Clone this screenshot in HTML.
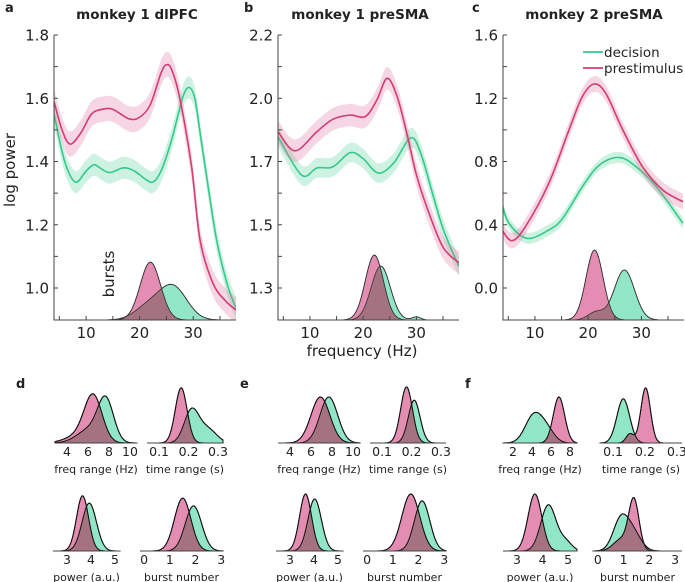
<!DOCTYPE html>
<html><head><meta charset="utf-8"><style>
html,body{margin:0;padding:0;background:#fff;}
svg{display:block;font-family:"DejaVu Sans","Liberation Sans",sans-serif;}
</style></head><body>
<svg id="fig" width="685" height="582" viewBox="0 0 685 582" xmlns="http://www.w3.org/2000/svg">
<g id="layer"></g>
</svg>
<script>
// ---- Main spectra data (frequency Hz, log power) ----
const aFreqPink=[4,5.5,7,9,11,13,15,18,20,22,24,25,26,27.5,29.7,31.3,33.7,36,38];
const aValPink=[1.59,1.50,1.455,1.49,1.55,1.565,1.565,1.535,1.54,1.58,1.68,1.706,1.69,1.60,1.384,1.15,1.015,0.96,0.93];
const aFreqGreen=[4,6,8,10,11.5,13,14.5,17,19,21,22.5,24,26,28,29.2,30.3,31.3,32.8,34.4,36.3,38];
const aValGreen=[1.55,1.40,1.335,1.37,1.39,1.375,1.365,1.38,1.37,1.345,1.335,1.37,1.47,1.60,1.634,1.60,1.49,1.32,1.15,1.015,0.935];
const bFreqPink=[4,7.2,11.3,14.3,17.5,20.4,22.6,24.5,26.4,28.2,30.1,32.6,35.1,38];
const bValPink=[1.856,1.788,1.856,1.90,1.915,1.91,1.97,2.046,1.98,1.85,1.696,1.554,1.442,1.389];
const bFreqGreen=[4,8.4,11.3,14.3,17.5,19.9,22.8,25.7,28.9,30.8,33,35.1,38];
const bValGreen=[1.838,1.702,1.727,1.731,1.781,1.762,1.709,1.744,1.834,1.78,1.638,1.506,1.376];
const cFreqPink=[3.8,5.7,8.2,12.6,16.4,18.9,21.1,23.3,26.5,30.2,34,37.8];
const cValPink=[0.367,0.299,0.388,0.662,1.0,1.21,1.29,1.231,1.0,0.767,0.62,0.546];
const cFreqGreen=[3.8,5.1,8.5,12.6,15.2,18.9,22.1,25.8,29,32.8,37.8];
const cValGreen=[0.535,0.41,0.314,0.367,0.44,0.64,0.778,0.826,0.767,0.64,0.409];
const bandPink=[0.04,0.04,0.05];
const bandGreen=[0.035,0.035,0.035];
// burst densities: [mean Hz, sd, height in log-power units]
const aBurstPink=[[22,1.9,0.183]];
const aBurstGreen=[[26.2,2.6,0.105],[21.5,2.5,0.04]];
const bBurstPink=[[22.1,1.7,0.231]];
const bBurstGreen=[[23.3,1.8,0.192],[30,0.8,0.011]];
const cBurstPink=[[21.2,1.6,0.443]];
const cBurstGreen=[[26.8,1.9,0.316],[21.5,1.5,0.05]];
const yTickValsA=[1.8,1.6,1.4,1.2,1.0];
const yTickLabelsA=["1.8","1.6","1.4","1.2","1.0"];
const yTickValsB=[2.2,1.975,1.75,1.525,1.3];
const yTickLabelsB=["2.2","2.0","1.7","1.5","1.3"];
const yTickValsC=[1.6,1.2,0.8,0.4,0.0];
const yTickLabelsC=["1.6","1.2","0.8","0.4","0.0"];
const xTickVals=[10,20,30];
// ---- Mini distributions: [mean, sd, amplitude] ----
const dFreqPink=[[6.5,0.85,1.0],[5,1.2,0.15]], dFreqGreen=[[7.7,0.75,0.88],[6.2,1.2,0.3]];
const dTimePink=[[0.175,0.02,1.2]], dTimeGreen=[[0.21,0.025,0.7],[0.265,0.03,0.3]];
const dPowPink=[[3.65,0.25,1.2]], dPowGreen=[[3.93,0.3,1.04]];
const dBurPink=[[1.5,0.32,1.15]], dBurGreen=[[1.92,0.32,0.98]];
const eFreqPink=[[6.9,0.9,1.0]], eFreqGreen=[[7.7,0.85,1.0]];
const eTimePink=[[0.183,0.02,1.22]], eTimeGreen=[[0.209,0.02,0.93]];
const ePowPink=[[3.65,0.25,1.24]], ePowGreen=[[4.03,0.28,1.13]];
const eBurPink=[[1.7,0.35,1.24]], eBurGreen=[[2.14,0.3,1.09]];
const fFreqPink=[[6.84,0.6,1.0]], fFreqGreen=[[4.2,0.9,0.6],[5.6,0.8,0.25]];
const fTimePink=[[0.202,0.015,1.2],[0.153,0.012,0.2]], fTimeGreen=[[0.132,0.02,0.96]];
const fPowPink=[[3.7,0.27,1.24]], fPowGreen=[[4.23,0.3,1.0],[4.9,0.25,0.2]];
const fBurPink=[[1.4,0.2,1.1],[0.9,0.3,0.25]], fBurGreen=[[0.9,0.3,0.7],[1.4,0.3,0.35]];
const freqTicksDE=[4,6,8,10], freqTicksF=[2,4,6,8], timeTicks=[0.1,0.2,0.3], powTicks=[3,4,5], burTicks=[0,1,2,3];
const timeTickLabels=["0.1","0.2","0.3"];

const NS="http://www.w3.org/2000/svg";
const layer=document.getElementById('layer');
const PINK="#d63a72", GREEN="#33c98a", PINKB="rgba(222,120,160,0.3)", GREENB="rgba(80,210,150,0.28)";
const PINKF="#e48db2", GREENF="#91e6c5", OVER="#a5737f";
function el(tag,attrs,parent){const e=document.createElementNS(NS,tag);for(const k in attrs)e.setAttribute(k,attrs[k]);(parent||layer).appendChild(e);return e;}
function txt(s,x,y,size,anchor,extra,parent){const t=el('text',Object.assign({x:x,y:y,'font-size':size,'text-anchor':anchor||'middle',fill:'#222'},extra||{}),parent);t.textContent=s;return t;}
function crPath(pts){let d='M'+pts[0][0].toFixed(2)+','+pts[0][1].toFixed(2);
 for(let i=0;i<pts.length-1;i++){const p0=pts[Math.max(0,i-1)],p1=pts[i],p2=pts[i+1],p3=pts[Math.min(pts.length-1,i+2)];
 const c1=[p1[0]+(p2[0]-p0[0])/6,p1[1]+(p2[1]-p0[1])/6],c2=[p2[0]-(p3[0]-p1[0])/6,p2[1]-(p3[1]-p1[1])/6];
 d+=' C'+c1[0].toFixed(2)+','+c1[1].toFixed(2)+' '+c2[0].toFixed(2)+','+c2[1].toFixed(2)+' '+p2[0].toFixed(2)+','+p2[1].toFixed(2);}
 return d;}
function mix(comps,x){let s=0;for(const c of comps)s+=c[2]*Math.exp(-0.5*Math.pow((x-c[0])/c[1],2));return s;}

// ---- main panels ----
const mains=[
 {key:'a',x0:54,x1:236,vTop:1.8,vBot:1.0,tv:yTickValsA,tl:yTickLabelsA,fp:aFreqPink,vp:aValPink,fg:aFreqGreen,vg:aValGreen,bp:aBurstPink,bg:aBurstGreen,bi:0},
 {key:'b',x0:278,x1:459,vTop:2.2,vBot:1.3,tv:yTickValsB,tl:yTickLabelsB,fp:bFreqPink,vp:bValPink,fg:bFreqGreen,vg:bValGreen,bp:bBurstPink,bg:bBurstGreen,bi:1},
 {key:'c',x0:503,x1:684,vTop:1.6,vBot:0.0,tv:yTickValsC,tl:yTickLabelsC,fp:cFreqPink,vp:cValPink,fg:cFreqGreen,vg:cValGreen,bp:cBurstPink,bg:cBurstGreen,bi:2}];
const Y0=35,Y1=288,YB=320;
mains.forEach((P,pi)=>{
 const g=el('g',{});
 
 
 const sx=f=>P.x0+(f-4)/(38-4)*(P.x1-P.x0);
 const sy=v=>Y0+(P.vTop-v)/(P.vTop-P.vBot)*(Y1-Y0);
 const vBase=P.vTop-(YB-Y0)/(Y1-Y0)*(P.vTop-P.vBot);
 const cid='clip'+P.key;
 const cp=el('clipPath',{id:cid},g);el('rect',{x:P.x0,y:0,width:P.x1-P.x0,height:YB},cp);
 const inner=el('g',{'clip-path':'url(#'+cid+')'},g);
 const N=160;const ptsP=[],ptsG=[],ptsO=[];
 for(let i=0;i<=N;i++){const f=4+34*i/N;const dp=mix(P.bp,f),dg=mix(P.bg,f);
  ptsP.push([sx(f),sy(vBase+dp)]);ptsG.push([sx(f),sy(vBase+dg)]);ptsO.push([sx(f),sy(vBase+Math.min(dp,dg))]);}
 const close=pts=>'M'+sx(4)+','+YB+' L'+pts.map(p=>p[0].toFixed(2)+','+p[1].toFixed(2)).join(' L')+' L'+sx(38)+','+YB+' Z';
 const gp=el('path',{d:close(ptsG),fill:GREENF,stroke:'#333','stroke-width':0.8},inner);
 
 const pp=el('path',{d:close(ptsP),fill:PINKF,stroke:'#333','stroke-width':0.8},inner);
 
 el('path',{d:close(ptsO),fill:OVER,stroke:'none'},inner);
 el('path',{d:'M'+ptsP.map(p=>p[0].toFixed(2)+','+p[1].toFixed(2)).join(' L'),fill:'none',stroke:'#333','stroke-width':0.8},inner);
 el('path',{d:'M'+ptsG.map(p=>p[0].toFixed(2)+','+p[1].toFixed(2)).join(' L'),fill:'none',stroke:'#333','stroke-width':0.8},inner);
 [[P.fg,P.vg,GREEN,GREENB,bandGreen[P.bi],'decision'],[P.fp,P.vp,PINK,PINKB,bandPink[P.bi],'prestimulus']].forEach(S=>{
  const up=S[0].map((f,i)=>[sx(f),sy(S[1][i]+S[4])]);
  const lo=S[0].map((f,i)=>[sx(f),sy(S[1][i]-S[4])]).reverse();
  const bd=crPath(up)+' L'+lo[0][0]+','+lo[0][1]+' '+crPath(lo).slice(1)+' Z';
  const band=el('path',{d:bd,fill:S[3],stroke:'none'},inner);
  
  const line=el('path',{d:crPath(S[0].map((f,i)=>[sx(f),sy(S[1][i])])),fill:'none',stroke:S[2],'stroke-width':1.6},inner);
  
 });
 const ax=el('path',{d:'M'+P.x0+','+Y0+' L'+P.x0+','+YB+' L'+P.x1+','+YB,fill:'none',stroke:'#444','stroke-width':1},g);
 
 for(let f=5;f<=35;f+=5)el('line',{x1:sx(f),x2:sx(f),y1:YB,y2:YB-4,stroke:'#444','stroke-width':1},g);
 xTickVals.forEach(f=>{const t=txt(String(f),sx(f),338,15,'middle',{},g);
  });
 P.tv.forEach((v,i)=>{const y=sy(v);el('line',{x1:P.x0,x2:P.x0+4,y1:y,y2:y,stroke:'#444'},g);
  if(i<P.tv.length-1){const ym=(y+sy(P.tv[i+1]))/2;el('line',{x1:P.x0,x2:P.x0+4,y1:ym,y2:ym,stroke:'#444'},g);}
  const t=txt(P.tl[i],P.x0-5,y+5.5,15,'end',{},g);
  });
});
const titles=[['monkey 1 dlPFC',137,'a',5],['monkey 1 preSMA',360,'b',244],['monkey 2 preSMA',594,'c',472]];
titles.forEach(T=>{const t=txt(T[0],T[1],19,13.5,'middle',{'font-weight':'bold'});
 
 const l=txt(T[2],T[3],12,13,'start',{'font-weight':'bold'});
 });
const ylab=txt('log power',15,170,15,'middle',{transform:'rotate(-90 15 170)'});

const bl=txt('bursts',114,274,15,'middle',{transform:'rotate(-90 114 274)'});

const xl=txt('frequency (Hz)',362,356,15,'middle');

const lg=el('g',{});

el('line',{x1:583,x2:603,y1:52,y2:52,stroke:GREEN,'stroke-width':1.8},lg);
el('line',{x1:583,x2:603,y1:68,y2:68,stroke:PINK,'stroke-width':1.8},lg);
const le1=txt('decision',604,57,13.5,'start',{},lg);
const le2=txt('prestimulus',604,73,13.5,'start',{},lg);

const minis=[
 ['d-freq',55,137,2.86,10.67,443,dFreqPink,dFreqGreen,freqTicksDE,null,'freq range (Hz)'],
 ['d-time',147,223,0.059,0.317,443,dTimePink,dTimeGreen,timeTicks,timeTickLabels,'time range (s)'],
 ['d-power',53,120,2.42,5.21,551,dPowPink,dPowGreen,powTicks,null,'power (a.u.)'],
 ['d-burst',140,223,-0.16,3.07,551,dBurPink,dBurGreen,burTicks,null,'burst number'],
 ['e-freq',278,360,2.86,10.67,443,eFreqPink,eFreqGreen,freqTicksDE,null,'freq range (Hz)'],
 ['e-time',370,446,0.059,0.317,443,eTimePink,eTimeGreen,timeTicks,timeTickLabels,'time range (s)'],
 ['e-power',276,343,2.42,5.21,551,ePowPink,ePowGreen,powTicks,null,'power (a.u.)'],
 ['e-burst',363,446,-0.16,3.07,551,eBurPink,eBurGreen,burTicks,null,'burst number'],
 ['f-freq',503,577,0.95,8.74,443,fFreqPink,fFreqGreen,freqTicksF,null,'freq range (Hz)'],
 ['f-time',600,682,0.059,0.316,443,fTimePink,fTimeGreen,timeTicks,timeTickLabels,'time range (s)'],
 ['f-power',503,577,2.45,5.35,551,fPowPink,fPowGreen,powTicks,null,'power (a.u.)'],
 ['f-burst',593,682,-0.19,3.27,551,fBurPink,fBurGreen,burTicks,null,'burst number']];
minis.forEach(M=>{
 const g=el('g',{});
 
 const sx=v=>M[1]+(v-M[3])/(M[4]-M[3])*(M[2]-M[1]);const base=M[5];const S=46;
 const N=120,P=[],G=[],O=[];
 for(let i=0;i<=N;i++){const v=M[3]+(M[4]-M[3])*i/N;const dp=mix(M[6],v),dg=mix(M[7],v);
  P.push([sx(v),base-S*dp]);G.push([sx(v),base-S*dg]);O.push([sx(v),base-S*Math.min(dp,dg)]);}
 const close=pts=>'M'+M[1]+','+base+' L'+pts.map(p=>p[0].toFixed(2)+','+p[1].toFixed(2)).join(' L')+' L'+M[2]+','+base+' Z';
 const gg=el('path',{d:close(G),fill:GREENF,stroke:'#111','stroke-width':1},g);
 
 const pp=el('path',{d:close(P),fill:PINKF,stroke:'#111','stroke-width':1},g);
 
 el('path',{d:close(O),fill:OVER,stroke:'none'},g);
 el('path',{d:'M'+P.map(p=>p[0].toFixed(2)+','+p[1].toFixed(2)).join(' L'),fill:'none',stroke:'#111','stroke-width':1},g);
 el('path',{d:'M'+G.map(p=>p[0].toFixed(2)+','+p[1].toFixed(2)).join(' L'),fill:'none',stroke:'#111','stroke-width':1},g);
 el('line',{x1:M[1],x2:M[2],y1:base,y2:base,stroke:'#444','stroke-width':1},g);
 M[8].forEach((t,i)=>{const tt=txt(M[9]?M[9][i]:String(t),sx(t),base+13,12.5,'middle',{},g);
  });
 const xl=txt(M[10],(M[1]+M[2])/2,base+30,11,'middle',{},g);
 
});
[['d',16],['e',240],['f',465]].forEach(L=>{const t=txt(L[0],L[1],388,13,'start',{'font-weight':'bold'});
 });
</script>
</body></html>
